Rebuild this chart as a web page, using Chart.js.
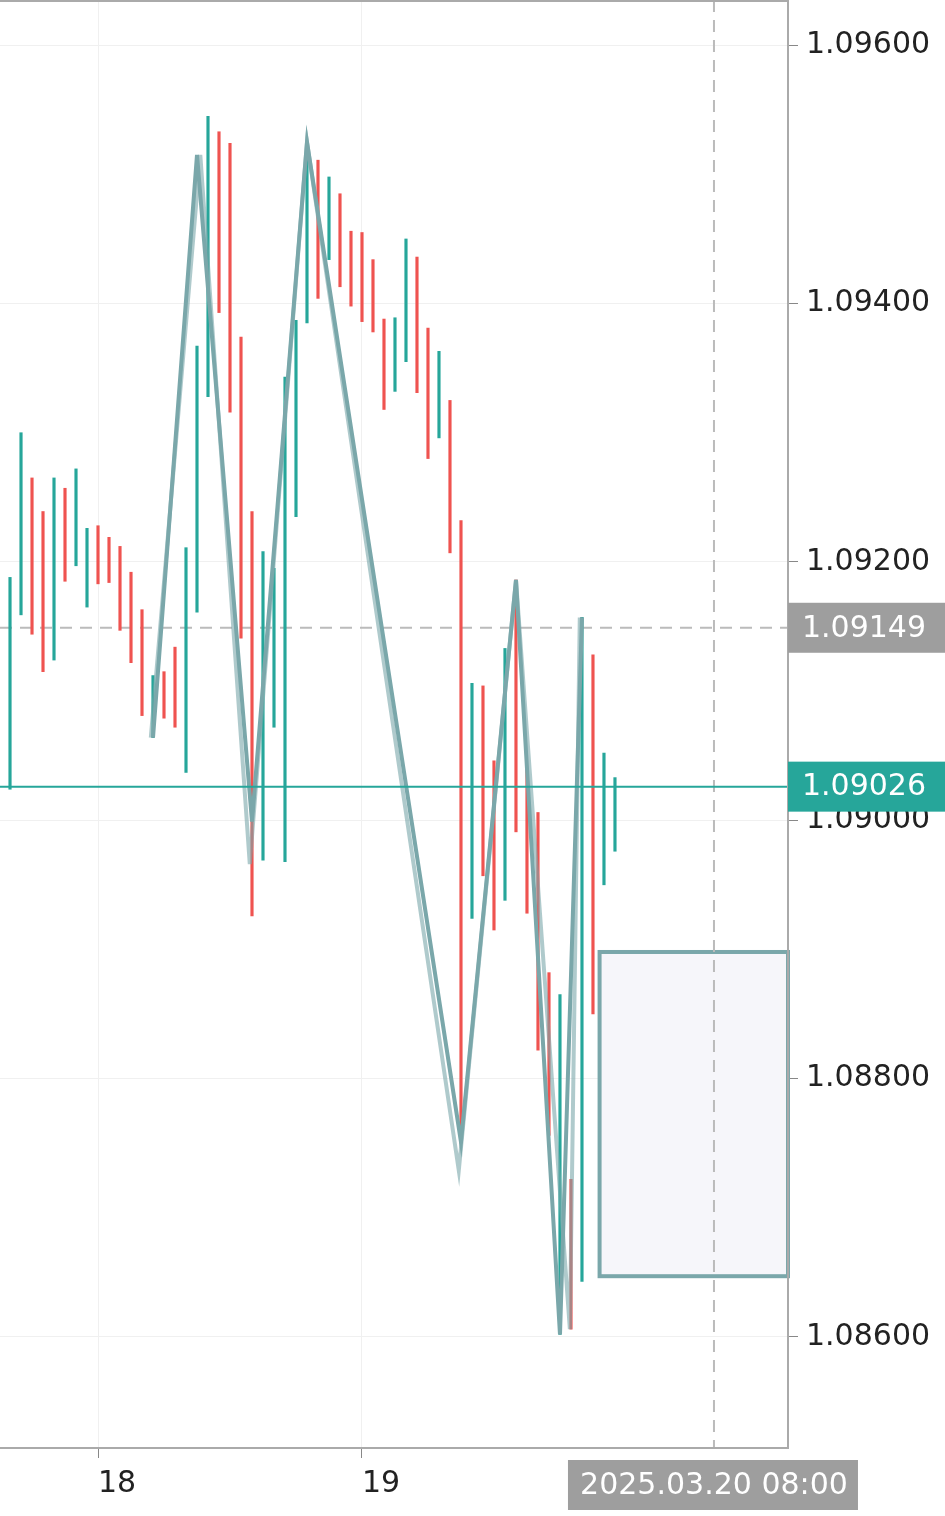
<!DOCTYPE html><html><head><meta charset="utf-8">
<script src="https://cdn.jsdelivr.net/npm/chart.js@4/dist/chart.umd.min.js"></script>
<style>html,body{margin:0;padding:0;background:#fff;overflow:hidden}#w{width:945px;height:1542px;margin-top:-26px}</style></head>
<body><div id="w"><canvas id="c"></canvas></div>
<script>
// hours relative to 2025-03-18 00:00
const hours=[];for(let h=-8;h<=47;h++)hours.push(h);
const highs=[1.09188,1.09300,1.09265,1.09239,1.09265,1.09257,1.09272,1.09226,1.09228,1.09219,1.09212,1.09192,1.09163,1.09112,1.09115,1.09134,1.09211,1.09367,1.09545,1.09533,1.09524,1.09374,1.09239,1.09208,1.09195,1.09343,1.09387,1.09525,1.09511,1.09498,1.09485,1.09456,1.09455,1.09434,1.09388,1.09389,1.09450,1.09436,1.09381,1.09363,1.09325,1.09232,1.09106,1.09104,1.09046,1.09133,1.09186,1.09039,1.09006,1.08882,1.08865,1.08722,1.09157,1.09128,1.09052,1.09033];
const lows=[1.09024,1.09159,1.09144,1.09115,1.09124,1.09185,1.09197,1.09165,1.09183,1.09184,1.09147,1.09122,1.09081,1.09064,1.09079,1.09072,1.09037,1.09161,1.09328,1.09393,1.09316,1.09141,1.08926,1.08969,1.09072,1.08968,1.09235,1.09385,1.09404,1.09434,1.09413,1.09398,1.09386,1.09378,1.09318,1.09332,1.09355,1.09331,1.09280,1.09296,1.09207,1.08750,1.08924,1.08957,1.08915,1.08938,1.08991,1.08928,1.08822,1.08756,1.08602,1.08606,1.08643,1.08850,1.08950,1.08976];
const dirList=["u","u","d","d","u","d","u","u","d","d","d","d","d","u","d","d","u","u","u","d","d","d","d","u","u","u","u","u","d","u","d","d","d","d","d","u","u","d","d","u","d","d","u","d","d","u","d","d","d","d","u","d","u","d","u","u"];
const zigX=[5,9,14,19,33,38,42,44];
const zigY=[1.09064,1.09515,1.08999,1.09525,1.08751,1.09186,1.08602,1.09157];
const zig2X=[4.8,9.3,13.8,19,32.8,38,42.9,43.8];
const zig2Y=[1.09064,1.09515,1.08966,1.09525,1.08729,1.09186,1.08606,1.09157];
const boxRange={x0:45.6,top:1.08898,bottom:1.08647};
const pendingLine=1.09149, priceLine=1.09026, markerHour=56;
const yTicks=[1.086,1.088,1.090,1.092,1.094,1.096];
const GREEN='#26a69a',RED='#ef5350',ZIG='#7aa7aa';

const overlay={id:'ov',
 beforeDatasetsDraw(ch){const {ctx,chartArea:a,scales:{x,y}}=ch;ctx.save();
  const bx=x.getPixelForValue(boxRange.x0),bt=y.getPixelForValue(boxRange.top),bb=y.getPixelForValue(boxRange.bottom);
  ctx.fillStyle='#f6f6fa';ctx.fillRect(bx,bt,a.right-bx,bb-bt);
  ctx.strokeStyle=ZIG;ctx.lineWidth=4;ctx.strokeRect(bx,bt,a.right-bx,bb-bt);
  ctx.setLineDash([12,8]);ctx.lineWidth=2;ctx.strokeStyle='#bbb';
  const py=y.getPixelForValue(pendingLine);ctx.beginPath();ctx.moveTo(a.left,py);ctx.lineTo(a.right,py);ctx.stroke();
  const mx=x.getPixelForValue(markerHour);ctx.beginPath();ctx.moveTo(mx,a.top);ctx.lineTo(mx,a.bottom);ctx.stroke();
  ctx.restore();},
 afterDraw(ch){const {ctx,chartArea:a,scales:{x,y}}=ch;ctx.save();
  const gy=y.getPixelForValue(priceLine);ctx.strokeStyle=GREEN;ctx.lineWidth=2;ctx.beginPath();ctx.moveTo(a.left,gy);ctx.lineTo(a.right,gy);ctx.stroke();
  ctx.strokeStyle='#aaa';ctx.lineWidth=2;ctx.beginPath();ctx.moveTo(a.left,a.top+1);ctx.lineTo(a.right,a.top+1);ctx.lineTo(a.right,a.bottom);ctx.lineTo(a.left,a.bottom);ctx.stroke();
  ctx.font='30px "DejaVu Sans"';ctx.textBaseline='middle';ctx.textAlign='center';
  const lab=(v,c)=>{const py=y.getPixelForValue(v);ctx.fillStyle=c;ctx.fillRect(a.right,py-25,157,50);ctx.fillStyle='#fff';ctx.fillText(v.toFixed(5),a.right+76,py+1);};
  lab(pendingLine,'#9e9e9e');lab(priceLine,GREEN);
  const mx=x.getPixelForValue(markerHour);ctx.fillStyle='#9e9e9e';ctx.fillRect(mx-146,a.bottom+12,290,50);ctx.fillStyle='#fff';ctx.fillText('2025.03.20 08:00',mx,a.bottom+38);
  ctx.restore();}};

new Chart(document.getElementById('c'),{
 data:{datasets:[
  {type:'bar',data:hours.map((h,i)=>({x:h,y:[lows[i],highs[i]]})),backgroundColor:dirList.map(d=>d==='u'?GREEN:RED),barThickness:2.5,order:2},
  {type:'line',data:zig2X.map((v,i)=>({x:v,y:zig2Y[i]})),borderColor:'rgba(122,167,170,0.6)',borderWidth:4,pointRadius:0,tension:0,order:1},
  {type:'line',data:zigX.map((v,i)=>({x:v,y:zigY[i]})),borderColor:ZIG,borderWidth:4,pointRadius:0,tension:0,order:0}
 ]},
 options:{responsive:true,maintainAspectRatio:false,animation:false,layout:{padding:0},
  plugins:{legend:{display:false},tooltip:{enabled:false}},
  scales:{
   x:{type:'linear',offset:false,min:-8.91,max:62.73,afterFit(s){s.height=68;},
     afterBuildTicks(s){s.ticks=[{value:0},{value:24}];},
     ticks:{callback:v=>v===0?'18':(v===24?'19':''),font:{size:30,family:'DejaVu Sans'},color:'#222',padding:8,autoSkip:false,maxRotation:0,align:'start'},
     grid:{offset:false,color:'#f0f0f0',tickLength:10,tickColor:'#888'},border:{display:false}},
   y:{position:'right',min:1.08514,max:1.09635,afterFit(s){s.width=157;},
     afterBuildTicks(s){s.ticks=yTicks.map(v=>({value:v}));},
     ticks:{callback:v=>v.toFixed(5),font:{size:30,family:'DejaVu Sans'},color:'#222',padding:8},
     grid:{color:'#f0f0f0',tickLength:10,tickColor:'#888'},border:{display:false}}
  }},
 plugins:[overlay]});
</script></body></html>
